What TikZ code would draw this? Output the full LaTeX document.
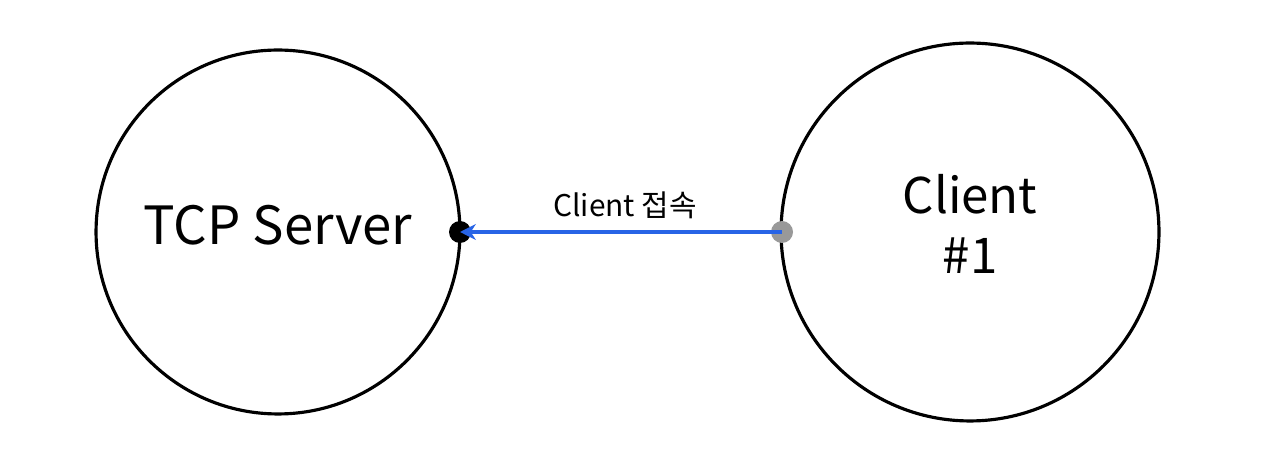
\documentclass[tikz,border=0pt]{standalone}
\usepackage{fontspec}
\setmainfont{Noto Sans CJK KR}
\usetikzlibrary{arrows.meta}
\begin{document}
\begin{tikzpicture}[x=0.02cm,y=-0.02cm,
  circ/.style={circle,draw=black,line width=1.8pt,inner sep=0pt},
  dot/.style={circle,inner sep=0pt,minimum size=0.44cm}]
\useasboundingbox (0,0) rectangle (1280,475);
\node[circ,minimum size=7.28cm] (srv) at (278,232) {};
\node[circ,minimum size=7.56cm] (cli) at (970,232) {};
\node[font=\fontsize{30}{36}\selectfont] (t1) at (278,225) {TCP Server};
\node[font=\fontsize{28}{34}\selectfont,align=center] (t2) at (970,224) {Client\\\#1};
\node[dot,fill=black] (a) at (460,232) {};
\node[dot,fill=gray!80] (b) at (782,232) {};
\draw[-{Stealth[length=9pt,width=9pt]},color={rgb,255:red,40;green,100;blue,230},line width=1.8pt] (b.center) -- (a.center);
\node[font=\fontsize{17}{20}\selectfont] (lbl) at (625,205) {Client 접속};
\end{tikzpicture}
\end{document}
